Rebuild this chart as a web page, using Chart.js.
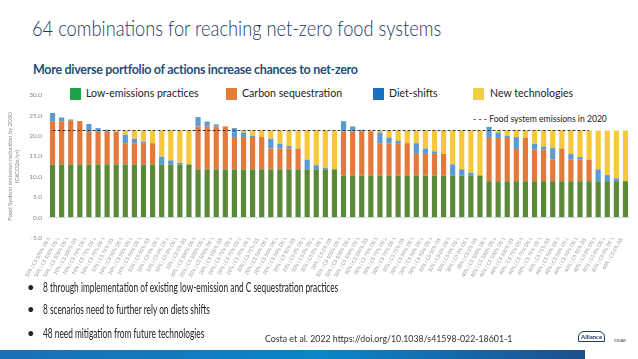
<!DOCTYPE html>
<html>
<head>
<meta charset="utf-8">
<script src="https://cdn.jsdelivr.net/npm/chart.js@4"></script>
<style>
  html, body { margin: 0; padding: 0; background: #fff; }
  body { width: 638px; height: 359px; position: relative; overflow: hidden; font-family: Lato, "Open Sans", sans-serif; }
  .abs { position: absolute; white-space: nowrap; transform-origin: 0 0; }
  #title { left: 32px; top: 15px; font-size: 21px; font-weight: 300; color: #1f3864; transform: scaleX(0.87); }
  #sub { left: 33px; top: 62px; font-size: 12.5px; font-weight: 700; color: #1f4e79; letter-spacing: -0.3px; }
  .sw { position: absolute; width: 11px; height: 12px; top: 88px; }
  .lg { position: absolute; top: 86px; font-size: 11.5px; color: #222; white-space: nowrap; transform: scaleX(0.92); transform-origin: 0 0; }
  #ref { left: 473px; top: 112px; font-size: 10px; color: #222; transform: scaleX(0.86); }
  .bul { position: absolute; left: 27px; font-size: 13px; color: #222; white-space: nowrap; }
  .bul span { position: absolute; left: 16px; transform: scaleX(0.64); transform-origin: 0 0; }
  #cite { left: 265px; top: 332px; font-size: 10px; color: #333; transform: scaleX(0.88); }
  #band { position: absolute; left: 0; top: 350px; width: 585px; height: 9px; background: linear-gradient(90deg, #1b6fb5, #0a84c8 55%, #1d4f8e); }
  #wrap { position: absolute; left: 0; top: 80px; width: 638px; height: 200px; }
  #logo1 { left: 578px; top: 331px; font-size: 6px; font-weight: 700; color: #1f3864; border: 1px solid #1f3864; border-radius: 6px 6px 0 0; padding: 1px 2px; }
  #logo2 { left: 614px; top: 338px; font-size: 4px; color: #333; }
</style>
</head>
<body>
<div class="abs" id="title">64 combinations for reaching net-zero food systems</div>
<div class="abs" id="sub">More diverse portfolio of actions increase chances to net-zero</div>

<div class="sw" style="left:70px;background:#1fa347"></div><div class="lg" style="left:86px">Low-emissions practices</div>
<div class="sw" style="left:226px;background:#e57c35"></div><div class="lg" style="left:242px">Carbon sequestration</div>
<div class="sw" style="left:373px;background:#1a70c0"></div><div class="lg" style="left:389px">Diet-shifts</div>
<div class="sw" style="left:473px;background:#f3d03a"></div><div class="lg" style="left:490px">New technologies</div>
<div class="abs" id="ref">- - - Food system emissions in 2020</div>

<div id="wrap"><canvas id="c" width="638" height="200"></canvas></div>

<div class="bul" style="top:279px">•<span>8 through implementation of existing low-emission and C sequestration practices</span></div>
<div class="bul" style="top:301px">•<span>8 scenarios need to further rely on diets shifts</span></div>
<div class="bul" style="top:325px">•<span>48 need mitigation from future technologies</span></div>
<div class="abs" id="cite">Costa et al. 2022 https://doi.org/10.1038/s41598-022-18601-1</div>
<div class="abs" id="logo1">Alliance</div>
<div class="abs" id="logo2">CGIAR</div>
<div id="band"></div>

<script>
var leLevels = ["10%", "20%", "30%", "40%"];
var csLevels = ["100%", "75%", "50%", "0%"];
var dsLevels = ["50%", "25%", "10%", "0%"];

var lowEmissions = [
  13.0,13.0,13.0,13.0,13.0,13.0,13.0,13.0,13.0,13.0,13.0,13.0,13.0,13.0,13.0,13.0,
  11.8,11.8,11.8,11.8,11.8,11.8,11.8,11.8,11.8,11.8,11.8,11.8,11.8,11.8,11.8,11.8,
  10.3,10.3,10.3,10.3,10.3,10.3,10.3,10.3,10.3,10.3,10.3,10.3,10.3,10.3,10.3,10.3,
  8.9,8.9,8.9,8.9,8.9,8.9,8.9,8.9,8.9,8.9,8.9,8.9,8.9,8.9,8.9,8.9
];
var carbonSeq = [
  10.6,10.6,10.7,10.6, 8.0,8.0,8.0,8.0, 5.2,5.2,5.2,5.2, 0,0,0,0,
  10.5,10.5,10.5,10.5, 7.9,7.9,7.9,7.9, 5.1,5.1,5.1,5.1, 0,0,0,0,
  10.8,10.8,10.8,10.8, 7.9,7.9,7.9,7.9, 5.3,5.3,5.3,5.3, 0,0,0,0,
  10.6,10.6,10.6,7.9, 10.6,7.7,7.7,5.3, 8.0,5.3,5.3,5.3, 0,0,0,0
];
var dietShifts = [
  2.0,0.9,0.3,0, 1.9,0.9,0.5,0, 2.1,1.1,0.4,0, 1.9,1.0,0.4,0,
  2.3,1.2,0.5,0, 2.2,1.1,0.3,0, 2.4,1.2,0.6,0, 2.4,1.0,0.4,0,
  2.5,1.2,0.4,0, 2.6,1.4,0.6,0, 2.6,1.3,0.6,0, 2.7,1.5,0.7,0,
  2.7,1.3,0.5,2.9, 0,1.5,0.8,2.8, 0,1.4,0.6,0, 2.9,1.5,0.7,0
];
var newTech = [
  0,0,0,0, 0,0,0,0.3, 1.0,2.0,2.7,3.1, 6.4,7.3,7.9,8.3,
  0,0,0,0, 0,0.5,1.3,1.6, 2.0,3.2,3.8,4.4, 7.1,8.5,9.1,9.5,
  0,0,0,0.2, 0.5,1.7,2.5,3.1, 3.1,4.4,5.1,5.7, 8.3,9.5,10.3,11.0,
  0,0.5,1.3,1.6, 1.8,3.2,3.9,4.3, 4.4,5.7,6.5,7.1, 9.5,10.9,11.7,12.4
];
var emissions2020 = [
  21.3,21.3,21.3,21.3,21.3,21.3,21.3,21.3,21.3,21.3,21.3,21.3,21.3,21.3,21.3,21.3,
  21.3,21.3,21.3,21.3,21.3,21.3,21.3,21.3,21.3,21.3,21.3,21.3,21.3,21.3,21.3,21.3,
  21.3,21.3,21.3,21.3,21.3,21.3,21.3,21.3,21.3,21.3,21.3,21.3,21.3,21.3,21.3,21.3,
  21.3,21.3,21.3,21.3,21.3,21.3,21.3,21.3,21.3,21.3,21.3,21.3,null,null,null,null
];

var labels = [];
leLevels.forEach(function (le) {
  csLevels.forEach(function (cs) {
    dsLevels.forEach(function (ds) {
      labels.push(le + " | CS " + cs + " DS " + ds);
    });
  });
});

function barSet(label, data, color) {
  return { label: label, data: data, backgroundColor: color, stack: "s", order: 1,
           barPercentage: 0.6, categoryPercentage: 0.95 };
}

new Chart(document.getElementById("c"), {
  type: "bar",
  data: {
    labels: labels,
    datasets: [
      { type: "line", label: "Food system emissions in 2020", data: emissions2020, stack: "ref", order: 0,
        borderColor: "#333", borderWidth: 1, borderDash: [3, 2], pointRadius: 0, fill: false },
      barSet("Low-emissions practices", lowEmissions, "#5a8a38"),
      barSet("Carbon sequestration", carbonSeq, "#e3793a"),
      barSet("Diet-shifts", dietShifts, "#5b9bd5"),
      barSet("New technologies", newTech, "#f6c83a")
    ]
  },
  options: {
    responsive: false,
    animation: false,
    layout: { padding: { top: 15, right: 8, left: 6 } },
    plugins: { legend: { display: false }, tooltip: { enabled: false } },
    scales: {
      x: {
        stacked: true,
        grid: { display: false },
        border: { display: false },
        ticks: { autoSkip: false, minRotation: 60, maxRotation: 60, padding: -16,
                 color: "#999", font: { size: 5, family: "Lato" } },
        afterFit: function (s) { s.height = 42; }
      },
      y: {
        stacked: true,
        min: -5, max: 30,
        border: { display: false },
        grid: { drawTicks: false, color: function (c) { return c.tick.value === 0 ? "#d9d9d9" : "transparent"; } },
        ticks: { stepSize: 5, padding: 6, color: "#888", font: { size: 6.5, family: "Lato" },
                 callback: function (v) { return v.toFixed(1); } },
        title: { display: true, text: ["Food System emission reduction by 2050", "(GtCO2e/yr)"],
                 color: "#888", font: { size: 6, family: "Lato" }, padding: 0 },
        afterFit: function (s) { s.width = 42; }
      }
    }
  }
});
</script>
</body>
</html>
